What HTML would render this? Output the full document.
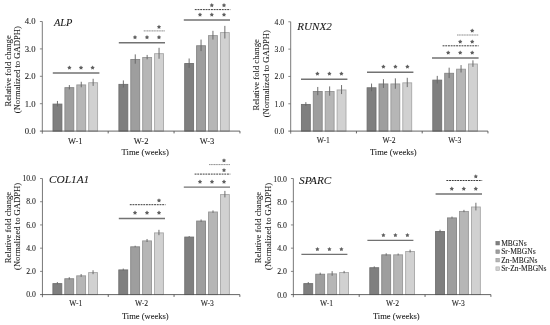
<!DOCTYPE html>
<html><head><meta charset="utf-8"><title>Relative fold change</title>
<style>
html,body{margin:0;padding:0;background:#fff;}
body{width:550px;height:325px;overflow:hidden;}
svg{display:block;font-family:"Liberation Serif","DejaVu Serif",serif;}
text{stroke:#222;stroke-width:0.08px;}
</style></head><body>
<svg width="550" height="325" viewBox="0 0 550 325">
<defs><filter id="soft" x="0" y="0" width="550" height="325" filterUnits="userSpaceOnUse"><feGaussianBlur stdDeviation="0.35"/></filter></defs>
<rect x="0" y="0" width="550" height="325" fill="#ffffff"/>
<g filter="url(#soft)">
<rect x="53.00" y="104.10" width="8.90" height="27.00" fill="#7f7f7f" stroke="#707070" stroke-width="0.9"/>
<line x1="57.45" x2="57.45" y1="100.96" y2="106.44" stroke="#666666" stroke-width="0.95"/>
<rect x="64.90" y="87.66" width="8.90" height="43.44" fill="#9e9e9e" stroke="#868686" stroke-width="0.9"/>
<line x1="69.35" x2="69.35" y1="85.07" y2="89.45" stroke="#666666" stroke-width="0.95"/>
<rect x="76.80" y="84.92" width="8.90" height="46.18" fill="#b6b6b6" stroke="#989898" stroke-width="0.9"/>
<line x1="81.25" x2="81.25" y1="81.78" y2="87.26" stroke="#666666" stroke-width="0.95"/>
<rect x="88.70" y="82.73" width="8.90" height="48.37" fill="#d1d1d1" stroke="#a8a8a8" stroke-width="0.9"/>
<line x1="93.15" x2="93.15" y1="78.77" y2="85.89" stroke="#666666" stroke-width="0.95"/>
<rect x="118.90" y="84.37" width="8.90" height="46.73" fill="#7f7f7f" stroke="#707070" stroke-width="0.9"/>
<line x1="123.35" x2="123.35" y1="80.41" y2="87.53" stroke="#666666" stroke-width="0.95"/>
<rect x="130.80" y="59.44" width="8.90" height="71.66" fill="#9e9e9e" stroke="#868686" stroke-width="0.9"/>
<line x1="135.25" x2="135.25" y1="54.38" y2="63.70" stroke="#666666" stroke-width="0.95"/>
<rect x="142.70" y="57.52" width="8.90" height="73.58" fill="#b6b6b6" stroke="#989898" stroke-width="0.9"/>
<line x1="147.15" x2="147.15" y1="54.93" y2="59.31" stroke="#666666" stroke-width="0.95"/>
<rect x="154.60" y="53.68" width="8.90" height="77.42" fill="#d1d1d1" stroke="#a8a8a8" stroke-width="0.9"/>
<line x1="159.05" x2="159.05" y1="47.80" y2="58.76" stroke="#666666" stroke-width="0.95"/>
<rect x="184.70" y="63.55" width="8.90" height="67.55" fill="#7f7f7f" stroke="#707070" stroke-width="0.9"/>
<line x1="189.15" x2="189.15" y1="58.49" y2="67.81" stroke="#666666" stroke-width="0.95"/>
<rect x="196.60" y="45.74" width="8.90" height="85.36" fill="#9e9e9e" stroke="#868686" stroke-width="0.9"/>
<line x1="201.05" x2="201.05" y1="39.58" y2="51.09" stroke="#666666" stroke-width="0.95"/>
<rect x="208.50" y="35.60" width="8.90" height="95.50" fill="#b6b6b6" stroke="#989898" stroke-width="0.9"/>
<line x1="212.95" x2="212.95" y1="30.82" y2="39.58" stroke="#666666" stroke-width="0.95"/>
<rect x="220.40" y="32.59" width="8.90" height="98.51" fill="#d1d1d1" stroke="#a8a8a8" stroke-width="0.9"/>
<line x1="224.85" x2="224.85" y1="25.88" y2="38.49" stroke="#666666" stroke-width="0.95"/>
<line x1="42.30" x2="42.30" y1="21.50" y2="133.70" stroke="#6a6a6a" stroke-width="0.9"/>
<line x1="39.90" x2="239.94" y1="131.10" y2="131.10" stroke="#525252" stroke-width="0.9"/>
<text x="35.50" y="133.97" font-size="8.70" text-anchor="end" fill="#1c1c1c">0.0</text>
<line x1="39.90" x2="42.30" y1="103.70" y2="103.70" stroke="#6a6a6a" stroke-width="0.8"/>
<text x="35.50" y="106.57" font-size="8.70" text-anchor="end" fill="#1c1c1c">1.0</text>
<line x1="39.90" x2="42.30" y1="76.30" y2="76.30" stroke="#6a6a6a" stroke-width="0.8"/>
<text x="35.50" y="79.17" font-size="8.70" text-anchor="end" fill="#1c1c1c">2.0</text>
<line x1="39.90" x2="42.30" y1="48.90" y2="48.90" stroke="#6a6a6a" stroke-width="0.8"/>
<text x="35.50" y="51.77" font-size="8.70" text-anchor="end" fill="#1c1c1c">3.0</text>
<line x1="39.90" x2="42.30" y1="21.50" y2="21.50" stroke="#6a6a6a" stroke-width="0.8"/>
<text x="35.50" y="24.37" font-size="8.70" text-anchor="end" fill="#1c1c1c">4.0</text>
<line x1="108.18" x2="108.18" y1="131.10" y2="133.40" stroke="#525252" stroke-width="0.9"/>
<line x1="174.06" x2="174.06" y1="131.10" y2="133.40" stroke="#525252" stroke-width="0.9"/>
<line x1="239.94" x2="239.94" y1="131.10" y2="133.40" stroke="#525252" stroke-width="0.9"/>
<text x="75.24" y="144.00" font-size="8.50" text-anchor="middle" fill="#1c1c1c">W-1</text>
<text x="141.12" y="144.00" font-size="8.50" text-anchor="middle" fill="#1c1c1c">W-2</text>
<text x="207.00" y="144.00" font-size="8.50" text-anchor="middle" fill="#1c1c1c">W-3</text>
<text x="145.20" y="155.30" font-size="8.60" text-anchor="middle" fill="#1c1c1c">Time (weeks)</text>
<text x="53.90" y="26.10" font-size="10.40" font-style="italic" fill="#1a1a1a">ALP</text>
<text transform="translate(10.80,70.90) rotate(-90)" font-size="8.62" text-anchor="middle" fill="#1c1c1c">Relative fold change</text>
<text transform="translate(20.30,69.70) rotate(-90)" font-size="8.62" text-anchor="middle" fill="#1c1c1c">(Normalized to GADPH)</text>
<line x1="52.80" x2="99.40" y1="73.00" y2="73.00" stroke="#727272" stroke-width="1.4"/>
<polygon points="69.40,65.50 70.13,66.75 71.54,67.05 70.58,68.13 70.72,69.57 69.40,68.99 68.08,69.57 68.22,68.13 67.26,67.05 68.67,66.75" fill="#606060"/>
<polygon points="81.00,65.50 81.73,66.75 83.14,67.05 82.18,68.13 82.32,69.57 81.00,68.99 79.68,69.57 79.82,68.13 78.86,67.05 80.27,66.75" fill="#606060"/>
<polygon points="92.60,65.50 93.33,66.75 94.74,67.05 93.78,68.13 93.92,69.57 92.60,68.99 91.28,69.57 91.42,68.13 90.46,67.05 91.87,66.75" fill="#606060"/>
<line x1="118.80" x2="165.00" y1="42.80" y2="42.80" stroke="#727272" stroke-width="1.4"/>
<polygon points="135.00,35.10 135.73,36.35 137.14,36.65 136.18,37.73 136.32,39.17 135.00,38.59 133.68,39.17 133.82,37.73 132.86,36.65 134.27,36.35" fill="#606060"/>
<polygon points="147.00,35.10 147.73,36.35 149.14,36.65 148.18,37.73 148.32,39.17 147.00,38.59 145.68,39.17 145.82,37.73 144.86,36.65 146.27,36.35" fill="#606060"/>
<polygon points="159.00,35.10 159.73,36.35 161.14,36.65 160.18,37.73 160.32,39.17 159.00,38.59 157.68,39.17 157.82,37.73 156.86,36.65 158.27,36.35" fill="#606060"/>
<line x1="143.70" x2="164.80" y1="30.90" y2="30.90" stroke="#909090" stroke-width="1.0" stroke-dasharray="1.3 0.35"/>
<polygon points="159.00,24.70 159.73,25.95 161.14,26.25 160.18,27.33 160.32,28.77 159.00,28.19 157.68,28.77 157.82,27.33 156.86,26.25 158.27,25.95" fill="#606060"/>
<line x1="183.80" x2="230.00" y1="20.00" y2="20.00" stroke="#727272" stroke-width="1.4"/>
<polygon points="200.00,12.40 200.73,13.65 202.14,13.95 201.18,15.03 201.32,16.47 200.00,15.89 198.68,16.47 198.82,15.03 197.86,13.95 199.27,13.65" fill="#606060"/>
<polygon points="211.80,12.40 212.53,13.65 213.94,13.95 212.98,15.03 213.12,16.47 211.80,15.89 210.48,16.47 210.62,15.03 209.66,13.95 211.07,13.65" fill="#606060"/>
<polygon points="224.00,12.40 224.73,13.65 226.14,13.95 225.18,15.03 225.32,16.47 224.00,15.89 222.68,16.47 222.82,15.03 221.86,13.95 223.27,13.65" fill="#606060"/>
<line x1="194.80" x2="230.30" y1="9.60" y2="9.60" stroke="#3c3c3c" stroke-width="1.0" stroke-dasharray="1.9 0.8"/>
<polygon points="211.80,3.10 212.53,4.35 213.94,4.65 212.98,5.73 213.12,7.17 211.80,6.59 210.48,7.17 210.62,5.73 209.66,4.65 211.07,4.35" fill="#606060"/>
<polygon points="224.00,3.10 224.73,4.35 226.14,4.65 225.18,5.73 225.32,7.17 224.00,6.59 222.68,7.17 222.82,5.73 221.86,4.65 223.27,4.35" fill="#606060"/>
<rect x="301.40" y="104.44" width="8.90" height="26.66" fill="#7f7f7f" stroke="#707070" stroke-width="0.9"/>
<line x1="305.85" x2="305.85" y1="102.13" y2="105.96" stroke="#666666" stroke-width="0.95"/>
<rect x="313.30" y="91.46" width="8.90" height="39.64" fill="#9e9e9e" stroke="#868686" stroke-width="0.9"/>
<line x1="317.75" x2="317.75" y1="86.96" y2="95.16" stroke="#666666" stroke-width="0.95"/>
<rect x="325.20" y="91.46" width="8.90" height="39.64" fill="#b6b6b6" stroke="#989898" stroke-width="0.9"/>
<line x1="329.65" x2="329.65" y1="86.42" y2="95.71" stroke="#666666" stroke-width="0.95"/>
<rect x="337.10" y="89.96" width="8.90" height="41.14" fill="#d1d1d1" stroke="#a8a8a8" stroke-width="0.9"/>
<line x1="341.55" x2="341.55" y1="85.05" y2="94.07" stroke="#666666" stroke-width="0.95"/>
<rect x="367.10" y="87.77" width="8.90" height="43.33" fill="#7f7f7f" stroke="#707070" stroke-width="0.9"/>
<line x1="371.55" x2="371.55" y1="83.55" y2="91.20" stroke="#666666" stroke-width="0.95"/>
<rect x="379.00" y="83.95" width="8.90" height="47.15" fill="#9e9e9e" stroke="#868686" stroke-width="0.9"/>
<line x1="383.45" x2="383.45" y1="79.17" y2="87.92" stroke="#666666" stroke-width="0.95"/>
<rect x="390.90" y="83.95" width="8.90" height="47.15" fill="#b6b6b6" stroke="#989898" stroke-width="0.9"/>
<line x1="395.35" x2="395.35" y1="78.35" y2="88.74" stroke="#666666" stroke-width="0.95"/>
<rect x="402.80" y="82.85" width="8.90" height="48.25" fill="#d1d1d1" stroke="#a8a8a8" stroke-width="0.9"/>
<line x1="407.25" x2="407.25" y1="77.81" y2="87.10" stroke="#666666" stroke-width="0.95"/>
<rect x="432.80" y="80.12" width="8.90" height="50.98" fill="#7f7f7f" stroke="#707070" stroke-width="0.9"/>
<line x1="437.25" x2="437.25" y1="75.89" y2="83.55" stroke="#666666" stroke-width="0.95"/>
<rect x="444.70" y="73.29" width="8.90" height="57.81" fill="#9e9e9e" stroke="#868686" stroke-width="0.9"/>
<line x1="449.15" x2="449.15" y1="67.69" y2="78.08" stroke="#666666" stroke-width="0.95"/>
<rect x="456.60" y="69.19" width="8.90" height="61.91" fill="#b6b6b6" stroke="#989898" stroke-width="0.9"/>
<line x1="461.05" x2="461.05" y1="65.10" y2="72.48" stroke="#666666" stroke-width="0.95"/>
<rect x="468.50" y="63.99" width="8.90" height="67.11" fill="#d1d1d1" stroke="#a8a8a8" stroke-width="0.9"/>
<line x1="472.95" x2="472.95" y1="60.32" y2="66.87" stroke="#666666" stroke-width="0.95"/>
<line x1="290.70" x2="290.70" y1="21.78" y2="133.70" stroke="#6a6a6a" stroke-width="0.9"/>
<line x1="288.30" x2="487.95" y1="131.10" y2="131.10" stroke="#525252" stroke-width="0.9"/>
<text x="284.20" y="134.04" font-size="7.70" text-anchor="end" fill="#1c1c1c">0.0</text>
<line x1="288.30" x2="290.70" y1="103.77" y2="103.77" stroke="#6a6a6a" stroke-width="0.8"/>
<text x="284.20" y="106.71" font-size="7.70" text-anchor="end" fill="#1c1c1c">1.0</text>
<line x1="288.30" x2="290.70" y1="76.44" y2="76.44" stroke="#6a6a6a" stroke-width="0.8"/>
<text x="284.20" y="79.38" font-size="7.70" text-anchor="end" fill="#1c1c1c">2.0</text>
<line x1="288.30" x2="290.70" y1="49.11" y2="49.11" stroke="#6a6a6a" stroke-width="0.8"/>
<text x="284.20" y="52.05" font-size="7.70" text-anchor="end" fill="#1c1c1c">3.0</text>
<line x1="288.30" x2="290.70" y1="21.78" y2="21.78" stroke="#6a6a6a" stroke-width="0.8"/>
<text x="284.20" y="24.72" font-size="7.70" text-anchor="end" fill="#1c1c1c">4.0</text>
<line x1="356.45" x2="356.45" y1="131.10" y2="133.40" stroke="#525252" stroke-width="0.9"/>
<line x1="422.20" x2="422.20" y1="131.10" y2="133.40" stroke="#525252" stroke-width="0.9"/>
<line x1="487.95" x2="487.95" y1="131.10" y2="133.40" stroke="#525252" stroke-width="0.9"/>
<text x="323.27" y="143.10" font-size="7.60" text-anchor="middle" fill="#1c1c1c">W-1</text>
<text x="389.02" y="143.10" font-size="7.60" text-anchor="middle" fill="#1c1c1c">W-2</text>
<text x="454.77" y="143.10" font-size="7.60" text-anchor="middle" fill="#1c1c1c">W-3</text>
<text x="393.30" y="155.20" font-size="8.50" text-anchor="middle" fill="#1c1c1c">Time (weeks)</text>
<text x="297.20" y="29.60" font-size="11.10" font-style="italic" fill="#1a1a1a">RUNX2</text>
<text transform="translate(259.40,74.90) rotate(-90)" font-size="8.65" text-anchor="middle" fill="#1c1c1c">Relative fold change</text>
<text transform="translate(268.90,73.70) rotate(-90)" font-size="8.65" text-anchor="middle" fill="#1c1c1c">(Normalized to GADPH)</text>
<line x1="301.00" x2="347.40" y1="79.20" y2="79.20" stroke="#727272" stroke-width="1.4"/>
<polygon points="317.40,71.50 318.13,72.75 319.54,73.05 318.58,74.13 318.72,75.57 317.40,74.99 316.08,75.57 316.22,74.13 315.26,73.05 316.67,72.75" fill="#606060"/>
<polygon points="329.40,71.50 330.13,72.75 331.54,73.05 330.58,74.13 330.72,75.57 329.40,74.99 328.08,75.57 328.22,74.13 327.26,73.05 328.67,72.75" fill="#606060"/>
<polygon points="341.40,71.50 342.13,72.75 343.54,73.05 342.58,74.13 342.72,75.57 341.40,74.99 340.08,75.57 340.22,74.13 339.26,73.05 340.67,72.75" fill="#606060"/>
<line x1="367.00" x2="413.40" y1="72.20" y2="72.20" stroke="#727272" stroke-width="1.4"/>
<polygon points="383.40,64.50 384.13,65.75 385.54,66.05 384.58,67.13 384.72,68.57 383.40,67.99 382.08,68.57 382.22,67.13 381.26,66.05 382.67,65.75" fill="#606060"/>
<polygon points="395.40,64.50 396.13,65.75 397.54,66.05 396.58,67.13 396.72,68.57 395.40,67.99 394.08,68.57 394.22,67.13 393.26,66.05 394.67,65.75" fill="#606060"/>
<polygon points="407.40,64.50 408.13,65.75 409.54,66.05 408.58,67.13 408.72,68.57 407.40,67.99 406.08,68.57 406.22,67.13 405.26,66.05 406.67,65.75" fill="#606060"/>
<line x1="432.00" x2="478.60" y1="58.00" y2="58.00" stroke="#727272" stroke-width="1.4"/>
<polygon points="448.20,50.50 448.93,51.75 450.34,52.05 449.38,53.13 449.52,54.57 448.20,53.99 446.88,54.57 447.02,53.13 446.06,52.05 447.47,51.75" fill="#606060"/>
<polygon points="460.20,50.50 460.93,51.75 462.34,52.05 461.38,53.13 461.52,54.57 460.20,53.99 458.88,54.57 459.02,53.13 458.06,52.05 459.47,51.75" fill="#606060"/>
<polygon points="472.20,50.50 472.93,51.75 474.34,52.05 473.38,53.13 473.52,54.57 472.20,53.99 470.88,54.57 471.02,53.13 470.06,52.05 471.47,51.75" fill="#606060"/>
<line x1="442.60" x2="478.60" y1="45.80" y2="45.80" stroke="#3c3c3c" stroke-width="1.0" stroke-dasharray="1.9 0.8"/>
<polygon points="460.20,39.50 460.93,40.75 462.34,41.05 461.38,42.13 461.52,43.57 460.20,42.99 458.88,43.57 459.02,42.13 458.06,41.05 459.47,40.75" fill="#606060"/>
<polygon points="472.20,39.50 472.93,40.75 474.34,41.05 473.38,42.13 473.52,43.57 472.20,42.99 470.88,43.57 471.02,42.13 470.06,41.05 471.47,40.75" fill="#606060"/>
<line x1="457.00" x2="478.60" y1="35.00" y2="35.00" stroke="#909090" stroke-width="1.0" stroke-dasharray="1.3 0.35"/>
<polygon points="472.20,28.50 472.93,29.75 474.34,30.05 473.38,31.13 473.52,32.57 472.20,31.99 470.88,32.57 471.02,31.13 470.06,30.05 471.47,29.75" fill="#606060"/>
<rect x="52.90" y="283.62" width="8.90" height="10.98" fill="#7f7f7f" stroke="#707070" stroke-width="0.9"/>
<line x1="57.35" x2="57.35" y1="282.06" y2="284.38" stroke="#666666" stroke-width="0.95"/>
<rect x="64.80" y="278.75" width="8.90" height="15.85" fill="#9e9e9e" stroke="#868686" stroke-width="0.9"/>
<line x1="69.25" x2="69.25" y1="277.19" y2="279.51" stroke="#666666" stroke-width="0.95"/>
<rect x="76.70" y="275.84" width="8.90" height="18.76" fill="#b6b6b6" stroke="#989898" stroke-width="0.9"/>
<line x1="81.15" x2="81.15" y1="274.05" y2="276.84" stroke="#666666" stroke-width="0.95"/>
<rect x="88.60" y="272.59" width="8.90" height="22.01" fill="#d1d1d1" stroke="#a8a8a8" stroke-width="0.9"/>
<line x1="93.05" x2="93.05" y1="270.22" y2="274.17" stroke="#666666" stroke-width="0.95"/>
<rect x="118.80" y="269.92" width="8.90" height="24.68" fill="#7f7f7f" stroke="#707070" stroke-width="0.9"/>
<line x1="123.25" x2="123.25" y1="268.59" y2="270.45" stroke="#666666" stroke-width="0.95"/>
<rect x="130.70" y="246.82" width="8.90" height="47.78" fill="#9e9e9e" stroke="#868686" stroke-width="0.9"/>
<line x1="135.15" x2="135.15" y1="245.72" y2="247.12" stroke="#666666" stroke-width="0.95"/>
<rect x="142.60" y="240.90" width="8.90" height="53.70" fill="#b6b6b6" stroke="#989898" stroke-width="0.9"/>
<line x1="147.05" x2="147.05" y1="238.99" y2="242.01" stroke="#666666" stroke-width="0.95"/>
<rect x="154.50" y="232.89" width="8.90" height="61.71" fill="#d1d1d1" stroke="#a8a8a8" stroke-width="0.9"/>
<line x1="158.95" x2="158.95" y1="229.82" y2="235.16" stroke="#666666" stroke-width="0.95"/>
<rect x="184.75" y="237.07" width="8.90" height="57.53" fill="#7f7f7f" stroke="#707070" stroke-width="0.9"/>
<line x1="189.20" x2="189.20" y1="236.09" y2="237.25" stroke="#666666" stroke-width="0.95"/>
<rect x="196.65" y="221.04" width="8.90" height="73.56" fill="#9e9e9e" stroke="#868686" stroke-width="0.9"/>
<line x1="201.10" x2="201.10" y1="219.48" y2="221.81" stroke="#666666" stroke-width="0.95"/>
<rect x="208.55" y="211.99" width="8.90" height="82.61" fill="#b6b6b6" stroke="#989898" stroke-width="0.9"/>
<line x1="213.00" x2="213.00" y1="210.43" y2="212.75" stroke="#666666" stroke-width="0.95"/>
<rect x="220.45" y="194.57" width="8.90" height="100.03" fill="#d1d1d1" stroke="#a8a8a8" stroke-width="0.9"/>
<line x1="224.90" x2="224.90" y1="190.92" y2="197.42" stroke="#666666" stroke-width="0.95"/>
<line x1="42.45" x2="42.45" y1="178.50" y2="297.20" stroke="#6a6a6a" stroke-width="0.9"/>
<line x1="40.05" x2="239.85" y1="294.60" y2="294.60" stroke="#525252" stroke-width="0.9"/>
<text x="35.85" y="297.34" font-size="7.70" text-anchor="end" fill="#1c1c1c">0.0</text>
<line x1="40.05" x2="42.45" y1="271.38" y2="271.38" stroke="#6a6a6a" stroke-width="0.8"/>
<text x="35.85" y="274.12" font-size="7.70" text-anchor="end" fill="#1c1c1c">2.0</text>
<line x1="40.05" x2="42.45" y1="248.16" y2="248.16" stroke="#6a6a6a" stroke-width="0.8"/>
<text x="35.85" y="250.90" font-size="7.70" text-anchor="end" fill="#1c1c1c">4.0</text>
<line x1="40.05" x2="42.45" y1="224.94" y2="224.94" stroke="#6a6a6a" stroke-width="0.8"/>
<text x="35.85" y="227.68" font-size="7.70" text-anchor="end" fill="#1c1c1c">6.0</text>
<line x1="40.05" x2="42.45" y1="201.72" y2="201.72" stroke="#6a6a6a" stroke-width="0.8"/>
<text x="35.85" y="204.46" font-size="7.70" text-anchor="end" fill="#1c1c1c">8.0</text>
<line x1="40.05" x2="42.45" y1="178.50" y2="178.50" stroke="#6a6a6a" stroke-width="0.8"/>
<text x="35.85" y="181.24" font-size="7.70" text-anchor="end" fill="#1c1c1c">10.0</text>
<line x1="108.25" x2="108.25" y1="294.60" y2="296.90" stroke="#525252" stroke-width="0.9"/>
<line x1="174.05" x2="174.05" y1="294.60" y2="296.90" stroke="#525252" stroke-width="0.9"/>
<line x1="239.85" x2="239.85" y1="294.60" y2="296.90" stroke="#525252" stroke-width="0.9"/>
<text x="75.75" y="306.00" font-size="7.60" text-anchor="middle" fill="#1c1c1c">W-1</text>
<text x="141.55" y="306.00" font-size="7.60" text-anchor="middle" fill="#1c1c1c">W-2</text>
<text x="207.35" y="306.00" font-size="7.60" text-anchor="middle" fill="#1c1c1c">W-3</text>
<text x="145.30" y="319.40" font-size="8.50" text-anchor="middle" fill="#1c1c1c">Time (weeks)</text>
<text x="48.90" y="183.40" font-size="11.35" font-style="italic" fill="#1a1a1a">COL1A1</text>
<text transform="translate(10.70,227.60) rotate(-90)" font-size="8.65" text-anchor="middle" fill="#1c1c1c">Relative fold change</text>
<text transform="translate(20.40,226.40) rotate(-90)" font-size="8.65" text-anchor="middle" fill="#1c1c1c">(Normalized to GADPH)</text>
<line x1="118.80" x2="165.00" y1="218.45" y2="218.45" stroke="#727272" stroke-width="1.4"/>
<polygon points="135.00,210.60 135.73,211.85 137.14,212.15 136.18,213.23 136.32,214.67 135.00,214.09 133.68,214.67 133.82,213.23 132.86,212.15 134.27,211.85" fill="#606060"/>
<polygon points="147.00,210.60 147.73,211.85 149.14,212.15 148.18,213.23 148.32,214.67 147.00,214.09 145.68,214.67 145.82,213.23 144.86,212.15 146.27,211.85" fill="#606060"/>
<polygon points="159.00,210.60 159.73,211.85 161.14,212.15 160.18,213.23 160.32,214.67 159.00,214.09 157.68,214.67 157.82,213.23 156.86,212.15 158.27,211.85" fill="#606060"/>
<line x1="129.80" x2="165.50" y1="204.70" y2="204.70" stroke="#3c3c3c" stroke-width="1.0" stroke-dasharray="1.9 0.8"/>
<polygon points="159.00,198.30 159.73,199.55 161.14,199.85 160.18,200.93 160.32,202.37 159.00,201.79 157.68,202.37 157.82,200.93 156.86,199.85 158.27,199.55" fill="#606060"/>
<line x1="183.80" x2="230.00" y1="187.10" y2="187.10" stroke="#727272" stroke-width="1.4"/>
<polygon points="200.00,179.60 200.73,180.85 202.14,181.15 201.18,182.23 201.32,183.67 200.00,183.09 198.68,183.67 198.82,182.23 197.86,181.15 199.27,180.85" fill="#606060"/>
<polygon points="212.00,179.60 212.73,180.85 214.14,181.15 213.18,182.23 213.32,183.67 212.00,183.09 210.68,183.67 210.82,182.23 209.86,181.15 211.27,180.85" fill="#606060"/>
<polygon points="224.00,179.60 224.73,180.85 226.14,181.15 225.18,182.23 225.32,183.67 224.00,183.09 222.68,183.67 222.82,182.23 221.86,181.15 223.27,180.85" fill="#606060"/>
<line x1="194.60" x2="230.30" y1="174.10" y2="174.10" stroke="#3c3c3c" stroke-width="1.0" stroke-dasharray="1.9 0.8"/>
<polygon points="224.00,167.90 224.73,169.15 226.14,169.45 225.18,170.53 225.32,171.97 224.00,171.39 222.68,171.97 222.82,170.53 221.86,169.45 223.27,169.15" fill="#606060"/>
<line x1="209.00" x2="230.00" y1="164.60" y2="164.60" stroke="#909090" stroke-width="1.0" stroke-dasharray="1.3 0.35"/>
<polygon points="224.00,158.20 224.73,159.45 226.14,159.75 225.18,160.83 225.32,162.27 224.00,161.69 222.68,162.27 222.82,160.83 221.86,159.75 223.27,159.45" fill="#606060"/>
<rect x="303.80" y="283.62" width="8.90" height="10.98" fill="#7f7f7f" stroke="#707070" stroke-width="0.9"/>
<line x1="308.25" x2="308.25" y1="282.06" y2="284.38" stroke="#666666" stroke-width="0.95"/>
<rect x="315.75" y="274.22" width="8.90" height="20.38" fill="#9e9e9e" stroke="#868686" stroke-width="0.9"/>
<line x1="320.20" x2="320.20" y1="272.66" y2="274.98" stroke="#666666" stroke-width="0.95"/>
<rect x="327.70" y="273.87" width="8.90" height="20.73" fill="#b6b6b6" stroke="#989898" stroke-width="0.9"/>
<line x1="332.15" x2="332.15" y1="271.15" y2="275.79" stroke="#666666" stroke-width="0.95"/>
<rect x="339.65" y="272.48" width="8.90" height="22.12" fill="#d1d1d1" stroke="#a8a8a8" stroke-width="0.9"/>
<line x1="344.10" x2="344.10" y1="270.92" y2="273.24" stroke="#666666" stroke-width="0.95"/>
<rect x="369.80" y="267.72" width="8.90" height="26.88" fill="#7f7f7f" stroke="#707070" stroke-width="0.9"/>
<line x1="374.25" x2="374.25" y1="266.39" y2="268.25" stroke="#666666" stroke-width="0.95"/>
<rect x="381.75" y="254.83" width="8.90" height="39.77" fill="#9e9e9e" stroke="#868686" stroke-width="0.9"/>
<line x1="386.20" x2="386.20" y1="253.27" y2="255.59" stroke="#666666" stroke-width="0.95"/>
<rect x="393.70" y="254.83" width="8.90" height="39.77" fill="#b6b6b6" stroke="#989898" stroke-width="0.9"/>
<line x1="398.15" x2="398.15" y1="253.50" y2="255.36" stroke="#666666" stroke-width="0.95"/>
<rect x="405.65" y="251.46" width="8.90" height="43.14" fill="#d1d1d1" stroke="#a8a8a8" stroke-width="0.9"/>
<line x1="410.10" x2="410.10" y1="249.67" y2="252.46" stroke="#666666" stroke-width="0.95"/>
<rect x="435.60" y="231.49" width="8.90" height="63.11" fill="#7f7f7f" stroke="#707070" stroke-width="0.9"/>
<line x1="440.05" x2="440.05" y1="229.70" y2="232.49" stroke="#666666" stroke-width="0.95"/>
<rect x="447.55" y="217.91" width="8.90" height="76.69" fill="#9e9e9e" stroke="#868686" stroke-width="0.9"/>
<line x1="452.00" x2="452.00" y1="216.58" y2="218.44" stroke="#666666" stroke-width="0.95"/>
<rect x="459.50" y="211.41" width="8.90" height="83.19" fill="#b6b6b6" stroke="#989898" stroke-width="0.9"/>
<line x1="463.95" x2="463.95" y1="209.85" y2="212.17" stroke="#666666" stroke-width="0.95"/>
<rect x="471.45" y="207.00" width="8.90" height="87.60" fill="#d1d1d1" stroke="#a8a8a8" stroke-width="0.9"/>
<line x1="475.90" x2="475.90" y1="202.76" y2="210.43" stroke="#666666" stroke-width="0.95"/>
<line x1="293.35" x2="293.35" y1="178.50" y2="297.20" stroke="#6a6a6a" stroke-width="0.9"/>
<line x1="290.95" x2="490.90" y1="294.60" y2="294.60" stroke="#525252" stroke-width="0.9"/>
<text x="286.95" y="297.67" font-size="7.80" text-anchor="end" fill="#1c1c1c">0.0</text>
<line x1="290.95" x2="293.35" y1="271.38" y2="271.38" stroke="#6a6a6a" stroke-width="0.8"/>
<text x="286.95" y="274.45" font-size="7.80" text-anchor="end" fill="#1c1c1c">2.0</text>
<line x1="290.95" x2="293.35" y1="248.16" y2="248.16" stroke="#6a6a6a" stroke-width="0.8"/>
<text x="286.95" y="251.23" font-size="7.80" text-anchor="end" fill="#1c1c1c">4.0</text>
<line x1="290.95" x2="293.35" y1="224.94" y2="224.94" stroke="#6a6a6a" stroke-width="0.8"/>
<text x="286.95" y="228.01" font-size="7.80" text-anchor="end" fill="#1c1c1c">6.0</text>
<line x1="290.95" x2="293.35" y1="201.72" y2="201.72" stroke="#6a6a6a" stroke-width="0.8"/>
<text x="286.95" y="204.79" font-size="7.80" text-anchor="end" fill="#1c1c1c">8.0</text>
<line x1="290.95" x2="293.35" y1="178.50" y2="178.50" stroke="#6a6a6a" stroke-width="0.8"/>
<text x="286.95" y="181.57" font-size="7.80" text-anchor="end" fill="#1c1c1c">10.0</text>
<line x1="359.20" x2="359.20" y1="294.60" y2="296.90" stroke="#525252" stroke-width="0.9"/>
<line x1="425.05" x2="425.05" y1="294.60" y2="296.90" stroke="#525252" stroke-width="0.9"/>
<line x1="490.90" x2="490.90" y1="294.60" y2="296.90" stroke="#525252" stroke-width="0.9"/>
<text x="326.58" y="306.00" font-size="7.60" text-anchor="middle" fill="#1c1c1c">W-1</text>
<text x="392.43" y="306.00" font-size="7.60" text-anchor="middle" fill="#1c1c1c">W-2</text>
<text x="458.28" y="306.00" font-size="7.60" text-anchor="middle" fill="#1c1c1c">W-3</text>
<text x="396.30" y="319.40" font-size="8.50" text-anchor="middle" fill="#1c1c1c">Time (weeks)</text>
<text x="299.00" y="183.80" font-size="11.25" font-style="italic" fill="#1a1a1a">SPARC</text>
<text transform="translate(261.30,227.60) rotate(-90)" font-size="8.65" text-anchor="middle" fill="#1c1c1c">Relative fold change</text>
<text transform="translate(270.80,226.40) rotate(-90)" font-size="8.65" text-anchor="middle" fill="#1c1c1c">(Normalized to GADPH)</text>
<line x1="301.40" x2="347.40" y1="254.40" y2="254.40" stroke="#727272" stroke-width="1.4"/>
<polygon points="317.40,246.90 318.13,248.15 319.54,248.45 318.58,249.53 318.72,250.97 317.40,250.39 316.08,250.97 316.22,249.53 315.26,248.45 316.67,248.15" fill="#606060"/>
<polygon points="329.40,246.90 330.13,248.15 331.54,248.45 330.58,249.53 330.72,250.97 329.40,250.39 328.08,250.97 328.22,249.53 327.26,248.45 328.67,248.15" fill="#606060"/>
<polygon points="341.40,246.90 342.13,248.15 343.54,248.45 342.58,249.53 342.72,250.97 341.40,250.39 340.08,250.97 340.22,249.53 339.26,248.45 340.67,248.15" fill="#606060"/>
<line x1="367.40" x2="413.40" y1="240.40" y2="240.40" stroke="#727272" stroke-width="1.4"/>
<polygon points="383.40,232.90 384.13,234.15 385.54,234.45 384.58,235.53 384.72,236.97 383.40,236.39 382.08,236.97 382.22,235.53 381.26,234.45 382.67,234.15" fill="#606060"/>
<polygon points="395.40,232.90 396.13,234.15 397.54,234.45 396.58,235.53 396.72,236.97 395.40,236.39 394.08,236.97 394.22,235.53 393.26,234.45 394.67,234.15" fill="#606060"/>
<polygon points="407.40,232.90 408.13,234.15 409.54,234.45 408.58,235.53 408.72,236.97 407.40,236.39 406.08,236.97 406.22,235.53 405.26,234.45 406.67,234.15" fill="#606060"/>
<line x1="435.60" x2="482.00" y1="194.00" y2="194.00" stroke="#727272" stroke-width="1.4"/>
<polygon points="451.80,186.60 452.53,187.85 453.94,188.15 452.98,189.23 453.12,190.67 451.80,190.09 450.48,190.67 450.62,189.23 449.66,188.15 451.07,187.85" fill="#606060"/>
<polygon points="463.80,186.60 464.53,187.85 465.94,188.15 464.98,189.23 465.12,190.67 463.80,190.09 462.48,190.67 462.62,189.23 461.66,188.15 463.07,187.85" fill="#606060"/>
<polygon points="475.80,186.60 476.53,187.85 477.94,188.15 476.98,189.23 477.12,190.67 475.80,190.09 474.48,190.67 474.62,189.23 473.66,188.15 475.07,187.85" fill="#606060"/>
<line x1="446.40" x2="482.20" y1="180.50" y2="180.50" stroke="#3c3c3c" stroke-width="1.0" stroke-dasharray="1.9 0.8"/>
<polygon points="475.80,174.20 476.53,175.45 477.94,175.75 476.98,176.83 477.12,178.27 475.80,177.69 474.48,178.27 474.62,176.83 473.66,175.75 475.07,175.45" fill="#606060"/>
<rect x="495.9" y="241.45" width="3.5" height="3.5" fill="#7f7f7f" stroke="#707070" stroke-width="0.6"/>
<text x="501.2" y="245.60" font-size="7.5" fill="#1c1c1c">MBGNs</text>
<rect x="495.9" y="249.92" width="3.5" height="3.5" fill="#9e9e9e" stroke="#868686" stroke-width="0.6"/>
<text x="501.2" y="254.07" font-size="7.5" fill="#1c1c1c">Sr-MBGNs</text>
<rect x="495.9" y="258.39" width="3.5" height="3.5" fill="#b6b6b6" stroke="#989898" stroke-width="0.6"/>
<text x="501.2" y="262.54" font-size="7.5" fill="#1c1c1c">Zn-MBGNs</text>
<rect x="495.9" y="266.86" width="3.5" height="3.5" fill="#d1d1d1" stroke="#a8a8a8" stroke-width="0.6"/>
<text x="501.2" y="271.01" font-size="7.5" fill="#1c1c1c">Sr-Zn-MBGNs</text>
</g>
</svg>
</body></html>
